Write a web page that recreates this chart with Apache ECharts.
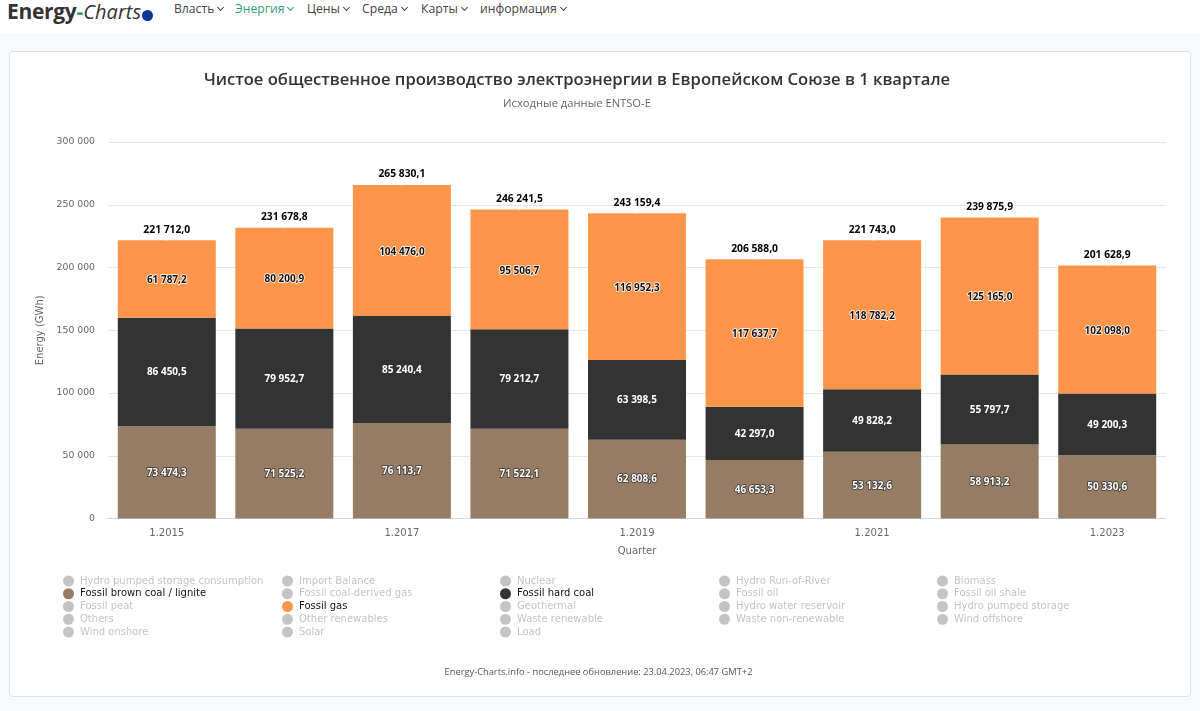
<!DOCTYPE html>
<html>
<head>
<meta charset="utf-8">
<script src="https://cdn.jsdelivr.net/npm/echarts@6/dist/echarts.min.js"></script>
<style>
html, body { margin: 0; padding: 0; width: 1200px; height: 711px; overflow: hidden; background: #f8f9fa; font-family: "Open Sans", sans-serif; }
#top { position: absolute; left: 0; top: 0; width: 1200px; height: 33px; background: #fff; }
#logo { position: absolute; left: 7px; top: -6px; font-size: 21px; line-height: 34px; color: #333; white-space: nowrap; }
#logo b { font-weight: 700; letter-spacing: -0.3px; }
#logo i { font-weight: 400; color: #333; font-size: 20px; }
#logo span { color: #2f9e77; font-weight: 700; }
#dot { position: absolute; left: 142px; top: 10px; width: 11px; height: 11px; border-radius: 50%; background: #0b3a94; }
.nav { position: absolute; top: -1px; font-size: 12.2px; line-height: 20px; color: #444; white-space: nowrap; }
.nav:after { content: ""; display: inline-block; width: 4px; height: 4px; margin-left: 4px; border-right: 1.5px solid currentColor; border-bottom: 1.5px solid currentColor; transform: translateY(-3px) rotate(45deg); }
#card { position: absolute; left: 9px; top: 51px; width: 1180px; height: 644px; background: #fff; border: 1px solid #dfe1e4; border-radius: 4px; }
#chart { position: absolute; left: 0; top: 0; width: 1200px; height: 711px; }
</style>
</head>
<body>
<div id="top">
    <div id="logo"><b>Energy</b><span>-</span><i>Charts</i></div>
    <div id="dot"></div>
    <div class="nav" style="left:174px">Власть</div>
    <div class="nav" style="left:235px;color:#2f9e77">Энергия</div>
    <div class="nav" style="left:307px">Цены</div>
    <div class="nav" style="left:362px">Среда</div>
    <div class="nav" style="left:421px">Карты</div>
    <div class="nav" style="left:480px">информация</div>
</div>
<div id="card"></div>
<div id="chart"></div>
<script>
var categories = ['1.2015', '1.2016', '1.2017', '1.2018', '1.2019', '1.2020', '1.2021', '1.2022', '1.2023'];
var browncoal = [73474.3, 71525.2, 76113.7, 71522.1, 62808.6, 46653.3, 53132.6, 58913.2, 50330.6];
var hardcoal = [86450.5, 79952.7, 85240.4, 79212.7, 63398.5, 42297.0, 49828.2, 55797.7, 49200.3];
var gas = [61787.2, 80200.9, 104476.0, 95506.7, 116952.3, 117637.7, 118782.2, 125165.0, 102098.0];
var totals = [221712.0, 231678.8, 265830.1, 246241.5, 243159.4, 206588.0, 221743.0, 239875.9, 201628.9];

var legendCols = [
    ['Hydro pumped storage consumption', 'Fossil brown coal / lignite', 'Fossil peat', 'Others', 'Wind onshore'],
    ['Import Balance', 'Fossil coal-derived gas', 'Fossil gas', 'Other renewables', 'Solar'],
    ['Nuclear', 'Fossil hard coal', 'Geothermal', 'Waste renewable', 'Load'],
    ['Hydro Run-of-River', 'Fossil oil', 'Hydro water reservoir', 'Waste non-renewable'],
    ['Biomass', 'Fossil oil shale', 'Hydro pumped storage', 'Wind offshore']
];
var legendLeft = [63, 282, 500, 719, 937];

var shown = {
    'Fossil brown coal / lignite': { data: browncoal, color: '#967c62', text: '#fff', halo: '#333', shift: 0.5 },
    'Fossil hard coal': { data: hardcoal, color: '#333333', text: '#fff', halo: '#333', shift: 0.5 },
    'Fossil gas': { data: gas, color: '#fd964a', text: '#111', halo: '#fff', shift: 1.5 }
};
var chartFont = '"DejaVu Sans", sans-serif';
var labelFont = '"Open Sans", sans-serif';

function fmt(v) {
    var parts = v.toFixed(1).split('.');
    return parts[0].replace(/\B(?=(\d{3})+$)/g, ' ') + ',' + parts[1];
}

var selected = {};
legendCols.forEach(function (col) {
    col.forEach(function (name) { selected[name] = !!shown[name]; });
});

var series = Object.keys(shown).map(function (name) {
    return {
        name: name,
        type: 'bar',
        stack: 'energy',
        barWidth: 98,
        data: shown[name].data,
        itemStyle: { color: shown[name].color },
        label: {
            show: true,
            position: 'inside',
            offset: [0, shown[name].shift],
            color: shown[name].text,
            fontFamily: labelFont,
            fontSize: 10,
            fontWeight: 'bold',
            textBorderColor: shown[name].halo,
            textBorderWidth: 1.5,
            formatter: function (p) { return fmt(p.value); }
        }
    };
});
// the grayed-out legend entries have no bars
Object.keys(selected).forEach(function (name) {
    if (!shown[name]) series.push({ name: name, type: 'bar', stack: 'energy', data: [], itemStyle: { color: '#cccccc' } });
});
series.push({
    name: 'total',
    type: 'line',
    data: totals,
    symbolSize: 1,
    lineStyle: { opacity: 0 },
    itemStyle: { color: 'transparent' },
    label: {
        show: true,
        position: 'top',
        distance: 4,
        color: '#000',
        fontFamily: labelFont,
        fontSize: 10.3,
        fontWeight: 'bold',
        textBorderColor: '#fff',
        textBorderWidth: 1.5,
        formatter: function (p) { return fmt(p.value); }
    }
});

var chart = echarts.init(document.getElementById('chart'));
chart.setOption({
    animation: false,
    title: [
        {
            text: 'Чистое общественное производство электроэнергии в Европейском Союзе в 1 квартале',
            left: 577, top: 72, padding: 0, textAlign: 'center',
            textStyle: { fontFamily: '"Open Sans", sans-serif', fontSize: 16.6, fontWeight: 600, color: '#333' }
        },
        {
            text: 'Исходные данные ENTSO-E',
            left: 577, top: 98, padding: 0, textAlign: 'center',
            textStyle: { fontFamily: '"Open Sans", sans-serif', fontSize: 11.2, fontWeight: 'normal', color: '#666' }
        },
        {
            text: 'Energy-Charts.info - последнее обновление: 23.04.2023, 06:47 GMT+2',
            left: 598.5, top: 668, padding: 0, textAlign: 'center',
            textStyle: { fontFamily: '"Open Sans", sans-serif', fontSize: 9.3, fontWeight: 'normal', color: '#555' }
        }
    ],
    grid: { left: 108, right: 34, top: 142, bottom: 192.5 },
    legend: legendCols.map(function (col, i) {
        return {
            data: col,
            selected: selected,
            orient: 'vertical',
            left: legendLeft[i],
            top: 575.5,
            padding: 0,
            itemWidth: 11,
            itemHeight: 11,
            itemGap: 1.75,
            icon: 'circle',
            inactiveColor: '#c4c4c4',
            textStyle: { fontFamily: chartFont, fontSize: 10, color: '#111', padding: [0, 0, 0, 1] }
        };
    }),
    xAxis: {
        type: 'category',
        data: categories,
        name: 'Quarter',
        nameLocation: 'middle',
        nameGap: 28,
        nameTextStyle: { fontFamily: chartFont, fontSize: 10, color: '#666' },
        axisTick: { show: false },
        axisLine: { lineStyle: { color: '#ccd6eb' } },
        axisLabel: { interval: 1, margin: 10, fontFamily: chartFont, fontSize: 10, color: '#666' }
    },
    yAxis: {
        type: 'value',
        min: 0,
        max: 300000,
        interval: 50000,
        name: 'Energy (GWh)',
        nameLocation: 'middle',
        nameGap: 53,
        nameTextStyle: { fontFamily: chartFont, fontSize: 10, color: '#666' },
        splitLine: { lineStyle: { color: '#e6e6e6' } },
        axisLabel: {
            margin: 13,
            fontFamily: chartFont,
            fontSize: 9.3,
            color: '#666',
            padding: [2, 0, 0, 0],
            formatter: function (v) { return String(v).replace(/\B(?=(\d{3})+$)/g, ' '); }
        }
    },
    series: series
});
</script>
</body>
</html>
